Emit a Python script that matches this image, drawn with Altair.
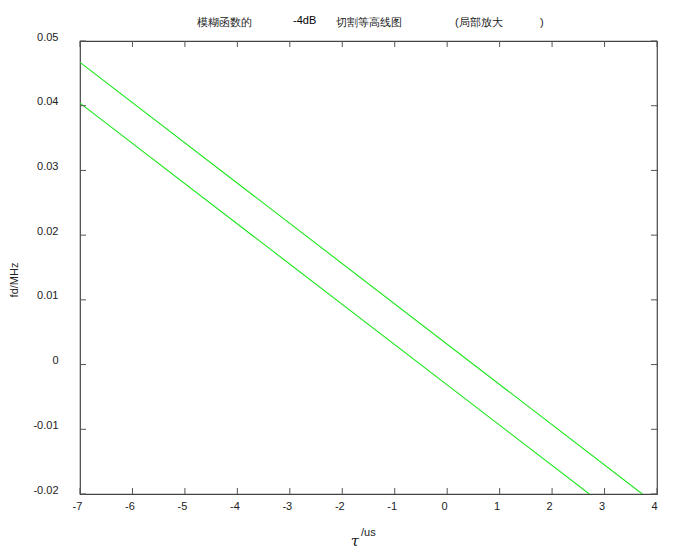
import altair as alt
import pandas as pd

# ---- data ----
line_names = ["upper", "lower"]
line_x = [[-7.0, 3.72], [-7.0, 2.71]]
line_y = [[0.0467, -0.02], [0.0404, -0.02]]

x_ticks = [-7, -6, -5, -4, -3, -2, -1, 0, 1, 2, 3, 4]
y_ticks = [-0.02, -0.01, 0.0, 0.01, 0.02, 0.03, 0.04, 0.05]

title_parts = ["模糊函数的", "-4dB", "切割等高线图", "(局部放大", ")"]
x_title = "τ"
x_title_sup = "/us"
y_title = "fd/MHz"

W, H = 577, 453
FONT = "Liberation Sans"

rows = []
for n, xs, ys in zip(line_names, line_x, line_y):
    for i, (a, b) in enumerate(zip(xs, ys)):
        rows.append({"series": n, "x": a, "y": b, "order": i})
df = pd.DataFrame(rows)
xt = pd.DataFrame({"t": x_ticks})
yt = pd.DataFrame({"t": y_ticks})

xscale = alt.Scale(domain=[-7, 4], nice=False, zero=False)
yscale = alt.Scale(domain=[-0.02, 0.05], nice=False, zero=False)

xaxis = alt.Axis(values=x_ticks, tickSize=0, domain=False, grid=False, labelFont=FONT,
                 labelFontSize=11, labelColor="#222", labelPadding=6, title=None,
                 labelOffset=-3, labelFlush=False, labelOverlap=False,
                 labelExpr="datum.value")
yaxis = alt.Axis(values=y_ticks, tickSize=0, domain=False, grid=False, labelFont=FONT,
                 labelFontSize=11, labelColor="#222", labelPadding=22, title=None,
                 labelOffset=-4, labelFlush=False, labelOverlap=False,
                 labelExpr="datum.value")

lines = alt.Chart(df).mark_line(color="#19e619", strokeWidth=1.1, clip=True).encode(
    x=alt.X("x:Q", scale=xscale, axis=xaxis),
    y=alt.Y("y:Q", scale=yscale, axis=yaxis),
    detail="series:N",
    order="order:Q",
)

TK = 6
TC = "#555"
bt = alt.Chart(xt).mark_rule(color=TC, strokeWidth=1).encode(
    x=alt.X("t:Q", scale=xscale), y=alt.value(H), y2=alt.value(H - TK))
tt = alt.Chart(xt).mark_rule(color=TC, strokeWidth=1).encode(
    x=alt.X("t:Q", scale=xscale), y=alt.value(0), y2=alt.value(TK))
lt = alt.Chart(yt).mark_rule(color=TC, strokeWidth=1).encode(
    y=alt.Y("t:Q", scale=yscale), x=alt.value(0), x2=alt.value(TK))
rt = alt.Chart(yt).mark_rule(color=TC, strokeWidth=1).encode(
    y=alt.Y("t:Q", scale=yscale), x=alt.value(W), x2=alt.value(W - TK))

title_x = [117, 213, 256, 375, 460]
title_y = [-18, -20, -18, -18, -18]
texts = []
for s, px, py in zip(title_parts, title_x, title_y):
    dark = s == "-4dB"
    texts.append(
        alt.Chart().mark_text(text=s, align="left", baseline="middle", font=FONT,
                              fontSize=11, color="#000" if dark else "#222")
        .encode(x=alt.value(px), y=alt.value(py)))

texts.append(alt.Chart().mark_text(text=x_title, align="center", baseline="middle",
                                   font="DejaVu Serif", fontStyle="italic", fontSize=15, color="#222")
             .encode(x=alt.value(275), y=alt.value(500)))
texts.append(alt.Chart().mark_text(text=x_title_sup, align="left", baseline="middle",
                                   font=FONT, fontSize=11, color="#222")
             .encode(x=alt.value(281), y=alt.value(492)))
texts.append(alt.Chart().mark_text(text=y_title, align="center", baseline="middle",
                                   font=FONT, fontSize=11, color="#222", angle=270)
             .encode(x=alt.value(-65), y=alt.value(239)))

chart = alt.layer(lines, bt, tt, lt, rt, *texts).properties(
    width=W, height=H,
    autosize=alt.AutoSizeParams(type="none"),
    padding={"left": 72, "top": 33, "right": 20, "bottom": 60},
    background="white",
).configure_view(stroke="#444", strokeWidth=1.2)

chart.save("out.html", embed_options={"renderer": "svg", "actions": False})
